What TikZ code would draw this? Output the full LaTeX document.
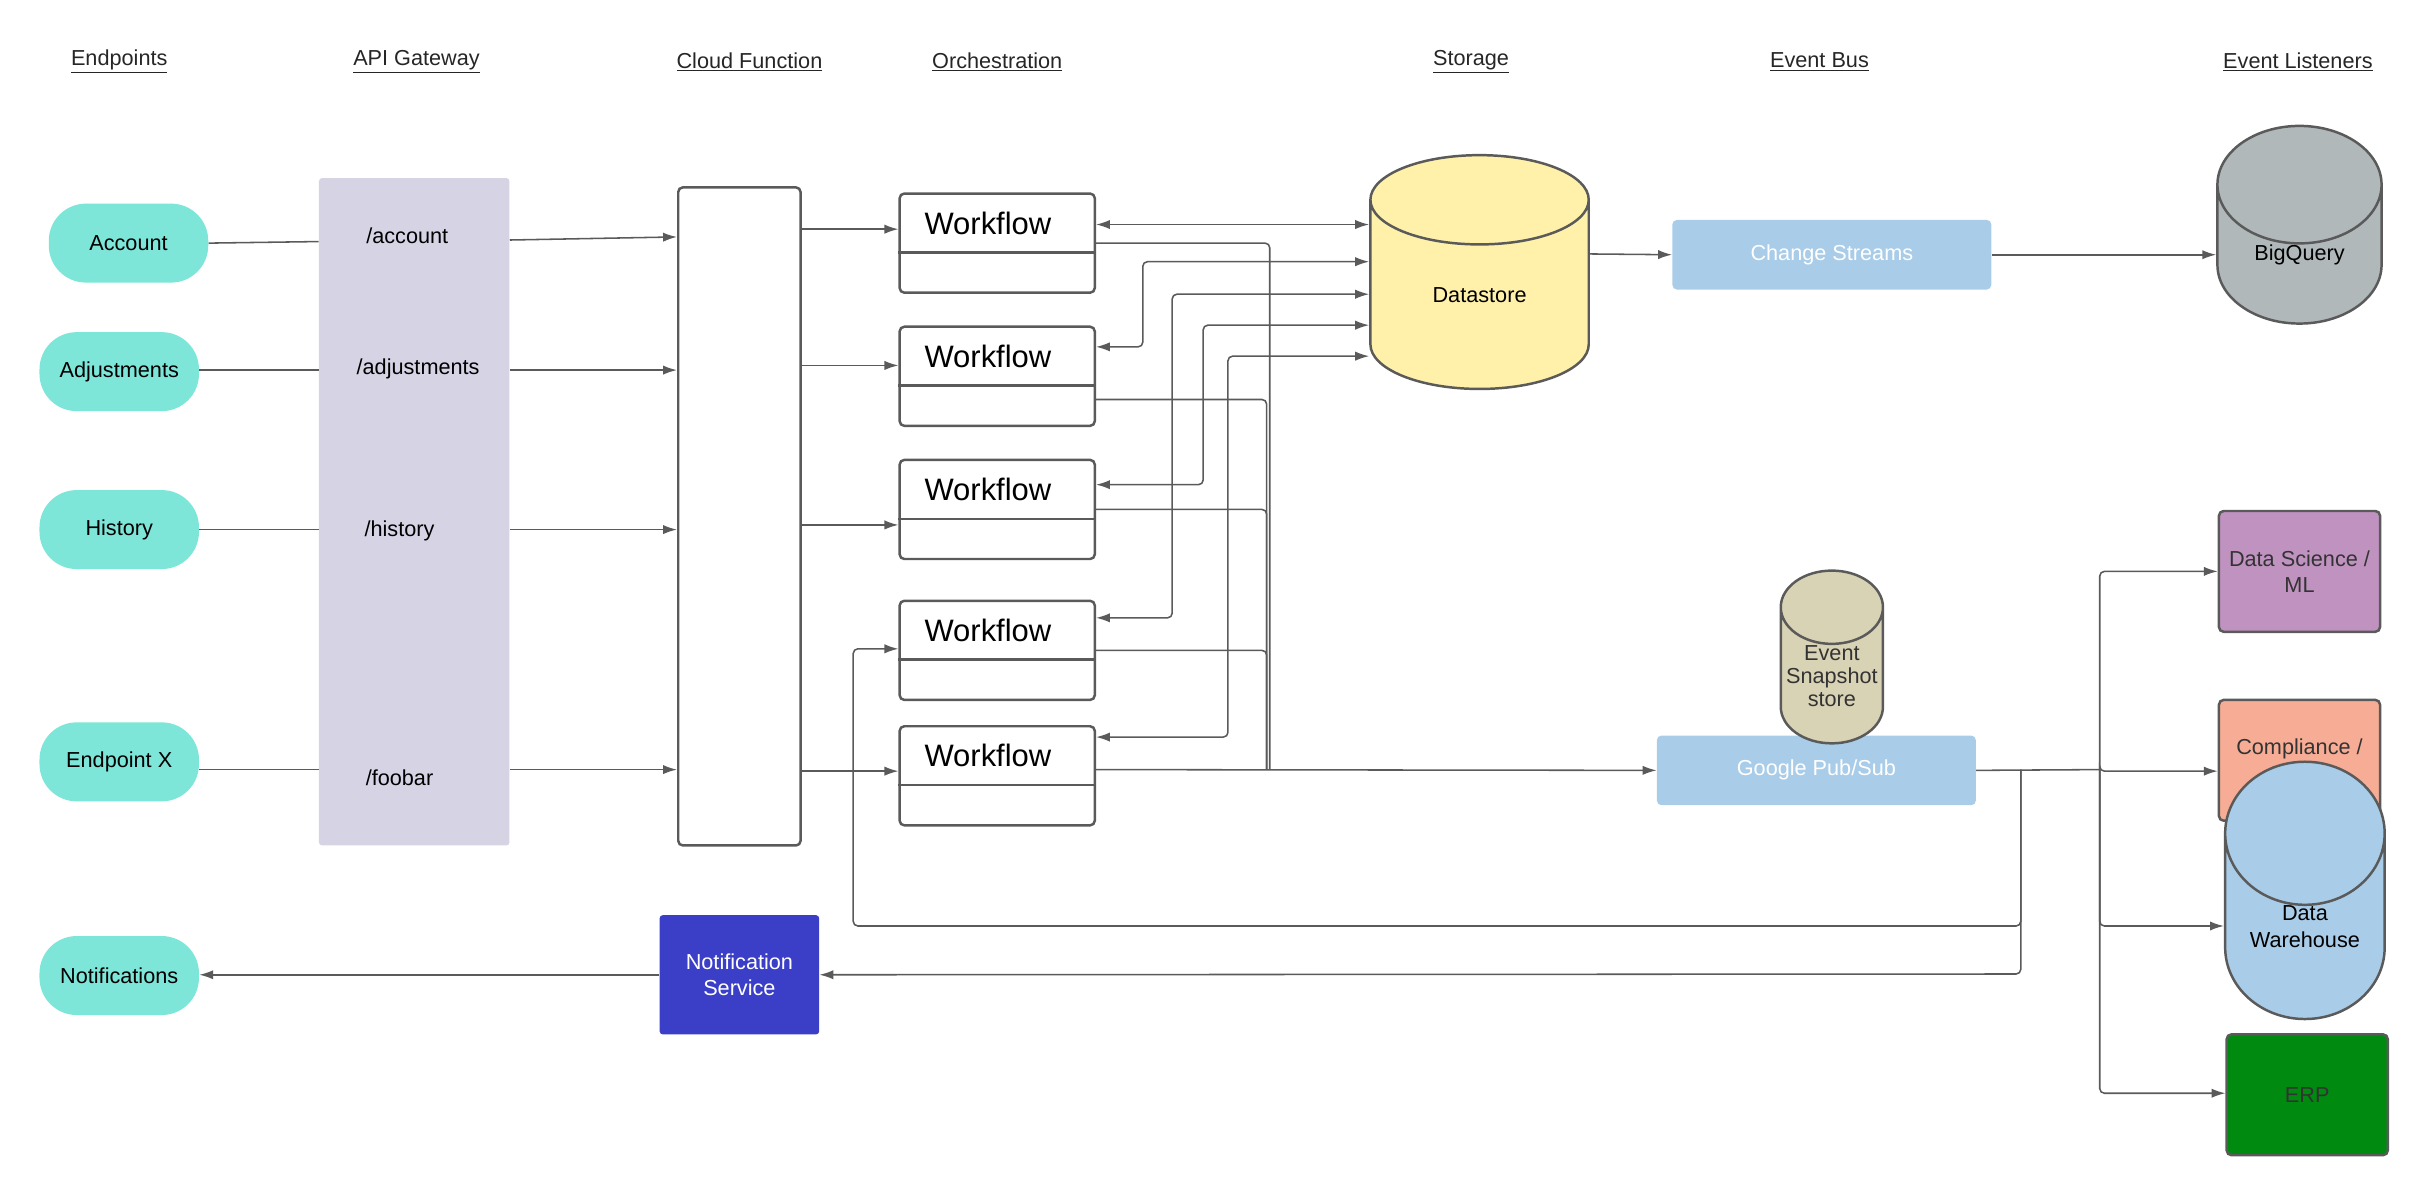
\documentclass[tikz,border=0pt]{standalone}
\usepackage{fontspec}
\setmainfont{Liberation Sans}
\usetikzlibrary{arrows.meta,shapes.geometric}
\definecolor{lnGray}{RGB}{90,90,90}
\definecolor{epTeal}{RGB}{125,230,217}
\definecolor{gwLilac}{RGB}{214,211,229}
\definecolor{busBlue}{RGB}{169,204,232}
\definecolor{dsYellow}{RGB}{255,241,170}
\definecolor{snapTan}{RGB}{217,211,181}
\definecolor{bqGray}{RGB}{176,184,185}
\definecolor{mlPurple}{RGB}{192,146,192}
\definecolor{frSalmon}{RGB}{247,173,149}
\definecolor{erpGreen}{RGB}{0,138,16}
\definecolor{nsBlue}{RGB}{59,63,200}

\tikzset{
  head/.style={font=\fontsize{14}{16}\selectfont, text=black!85},
  endpoint/.style={fill=epTeal, rounded corners=24pt, minimum width=103pt,
    minimum height=51pt, inner sep=0pt, font=\fontsize{14}{16}\selectfont},
  route/.style={font=\fontsize{14}{16}\selectfont, inner sep=0pt},
  flowbox/.style={draw=lnGray, line width=1.6pt, rounded corners=3pt,
    minimum width=126pt, minimum height=64pt, inner sep=0pt},
  bus/.style={fill=busBlue, rounded corners=3pt, minimum width=206pt,
    minimum height=45pt, inner sep=0pt, text=white,
    font=\fontsize{14}{16}\selectfont},
  db/.style={draw=lnGray, line width=1.6pt, cylinder, shape border rotate=90,
    inner sep=0pt, align=center, font=\fontsize{14}{17}\selectfont},
  listener/.style={draw=lnGray, line width=1.6pt, rounded corners=3pt,
    minimum width=104pt, minimum height=78pt, inner sep=0pt, align=center,
    font=\fontsize{14}{17}\selectfont, text=black!80},
  conn/.style={draw=lnGray, line width=1pt, rounded corners=3pt,
    -{Latex[length=9pt,width=6pt]}},
  link/.style={draw=lnGray, line width=1pt, rounded corners=3pt},
  both/.style={conn, {Latex[length=9pt,width=6pt]}-{Latex[length=9pt,width=6pt]}}
}

\begin{document}
\begin{tikzpicture}[x=1pt, y=-1pt]
  \useasboundingbox (0,0) rectangle (1568,771);

  % Column headers
  \foreach \x/\t in {77/Endpoints, 269/API Gateway, 484/Cloud Function,
    644/Orchestration, 950/Storage, 1175/Event Bus, 1484/Event Listeners}
    \node[head] at (\x,40) {\underline{\t}};

  % Endpoints
  \node[endpoint] (acc) at (83,157) {Account};
  \node[endpoint] (adj) at (77,240) {Adjustments};
  \node[endpoint] (his) at (77,342) {History};
  \node[endpoint] (epx) at (77,492) {Endpoint X};
  \node[endpoint] (ntf) at (77,630) {Notifications};

  % API gateway
  \node[fill=gwLilac, rounded corners=2pt, minimum width=123pt,
    minimum height=431pt, inner sep=0pt] (api) at (267.5,330.5) {};
  \node[route] (rAcc) at (263,152) {/account};
  \node[route] (rAdj) at (270,238) {/adjustments};
  \node[route] (rHis) at (258,343) {/history};
  \node[route] (rFoo) at (258,502) {/foobar};

  % Cloud function
  \node[draw=lnGray, line width=1.6pt, rounded corners=3pt, minimum width=79pt,
    minimum height=425pt, inner sep=0pt] (cf) at (477.5,333.5) {};

  % Workflows
  \foreach \n/\y in {1/157, 2/243, 3/329, 4/420, 5/501} {
    \node[flowbox] (wf\n) at (644,\y) {};
    \draw[draw=lnGray, line width=1.6pt] ([yshift=-6pt]wf\n.west) -- ([yshift=-6pt]wf\n.east);
    \node[font=\fontsize{20}{22}\selectfont] at (638,\y-13) {Workflow};
  }

  % Storage and event bus
  \node[db, fill=dsYellow, minimum width=141pt, minimum height=151pt,
    aspect=0.95] (ds) at (955.5,190.5) {Datastore};
  \node[bus] (cs) at (1183,164.5) {Change Streams};
  \node[bus] (ps) at (1173,497.5) {Google Pub/Sub};
  \node[db, fill=snapTan, minimum width=66pt, minimum height=77pt,
    aspect=0.8, text=black!80] (snap) at (1183,436.5) {Event\\[-2pt]Snapshot\\[-2pt]store};

  % Listeners
  \node[db, fill=bqGray, minimum width=106pt, minimum height=77pt,
    aspect=1.3] (bq) at (1485,164.5) {BigQuery};
  \node[listener, fill=mlPurple] (ml) at (1485,369) {Data Science /\\ML};
  \node[listener, fill=frSalmon] (fr) at (1485,491) {Compliance /\\Fraud};
  \node[db, fill=busBlue, minimum width=103pt, minimum height=83pt,
    aspect=1.3] (dw) at (1488.5,598.5) {Data\\Warehouse};
  \node[listener, fill=erpGreen] (erp) at (1490,707) {ERP};

  % Notification service
  \node[fill=nsBlue, rounded corners=2pt, minimum width=103pt, minimum height=77pt,
    inner sep=0pt, align=center, text=white,
    font=\fontsize{14}{17}\selectfont] (ns) at (477.5,629.5) {Notification\\Service};

  % Endpoints to gateway to cloud function
  \draw[link] (acc.east) -- (api.west |- 0,156);
  \draw[conn] (api.east |- 0,155) -- (cf.west |- 0,153);
  \foreach \e/\y in {adj/239, his/342, epx/497} {
    \draw[link] (\e.east |- 0,\y) -- (api.west |- 0,\y);
    \draw[conn] (api.east |- 0,\y) -- (cf.west |- 0,\y);
  }

  % Cloud function to workflows
  \draw[conn] (cf.east |- 0,148) -- (wf1.west |- 0,148);
  \draw[conn] (cf.east |- 0,236) -- (wf2.west |- 0,236);
  \draw[conn] (cf.east |- 0,339) -- (wf3.west |- 0,339);
  \draw[conn] (cf.east |- 0,498) -- (wf5.west |- 0,498);

  % Workflows and datastore
  \draw[both] (wf1.east |- 0,145) -- (ds.west |- 0,145);
  \draw[both] (wf2.east |- 0,224) -- (738,224) -- (738,169) -- (ds.west |- 0,169);
  \draw[both] (wf4.east |- 0,399) -- (757,399) -- (757,190) -- (ds.west |- 0,190);
  \draw[both] (wf3.east |- 0,313) -- (777,313) -- (777,210) -- (ds.west |- 0,210);
  \draw[both] (wf5.east |- 0,476) -- (793,476) -- (793,230) -- (ds.west |- 0,230);

  % Workflows to pub/sub
  \draw[link] (wf1.east |- 0,157) -- (820,157) -- (820,497);
  \draw[link] (wf2.east |- 0,258) -- (818,258) -- (818,497);
  \draw[link] (wf3.east |- 0,329) -- (818,329) -- (818,497);
  \draw[link] (wf4.east |- 0,420) -- (818,420) -- (818,497);
  \draw[conn] (wf5.east |- 0,497) -- (ps.west);

  % Storage to change streams to BigQuery
  \draw[conn] (ds.east |- 0,164) -- (cs.west);
  \draw[conn] (cs.east) -- (bq.west |- cs.east);

  % Pub/sub to listeners
  \coordinate (fan) at (1356,497);
  \draw[link] (ps.east) -- (fan);
  \draw[conn] (fan) -- (1356,369) -- (ml.west);
  \draw[conn] (fan) -- (1356,498) -- (fr.west |- 0,498);
  \draw[conn] (fan) -- (1356,598) -- (dw.west |- 0,598);
  \draw[conn] (fan) -- (1356,706) -- (erp.west |- 0,706);

  % Pub/sub back to workflow and notifications
  \coordinate (back) at (1305,497);
  \draw[conn] (back) -- (1305,598) -- (551,598) -- (551,419) -- (wf4.west |- 0,419);
  \draw[conn] (back) -- (1305,629) -- (ns.east);
  \draw[conn] (ns.west) -- (ntf.east |- ns.west);
\end{tikzpicture}
\end{document}
